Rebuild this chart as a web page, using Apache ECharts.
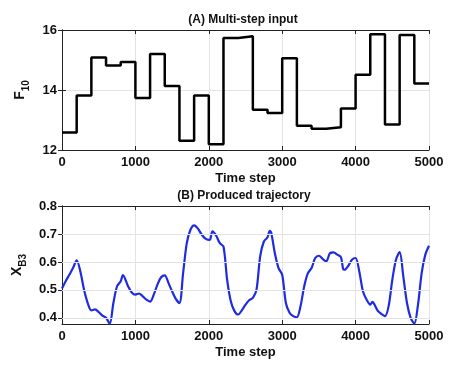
<!DOCTYPE html>
<html>
<head>
<meta charset="utf-8">
<script src="https://cdn.jsdelivr.net/npm/echarts@6/dist/echarts.min.js"></script>
<style>
html,body{margin:0;padding:0;background:#fff;}
#c{width:474px;height:369px;}
</style>
</head>
<body>
<div id="c"></div>
<script>
// Panel A: multi-step input (held for 200 time steps each)
const stepStarts = [0,200,400,600,800,1000,1200,1400,1600,1800,2000,2200,2400,2600,2800,3000,3200,3400,3600,3800,4000,4200,4400,4600,4800,5000];
const stepValues = [12.58,13.82,15.08,14.82,14.93,13.73,15.20,14.13,12.31,13.82,12.19,15.73,15.79,13.34,13.23,15.06,12.81,12.71,12.76,13.38,14.51,15.86,12.85,15.83,14.22,14.22];

// Panel B: produced trajectory
const trajT = [0,50,100,150,200,250,300,350,400,450,500,550,600,650,700,750,800,830,900,950,1000,1050,1100,1150,1200,1250,1300,1350,1400,1450,1500,1550,1600,1650,1700,1750,1800,1850,1900,1950,2000,2020,2050,2100,2150,2200,2250,2300,2350,2400,2450,2500,2550,2600,2650,2700,2750,2800,2830,2850,2900,2950,3000,3050,3100,3150,3200,3250,3300,3350,3400,3450,3500,3550,3600,3650,3700,3750,3800,3830,3850,3900,3950,4000,4050,4100,4150,4200,4230,4250,4300,4350,4400,4450,4500,4550,4600,4650,4700,4750,4800,4850,4900,4950,5000];
const trajX = [0.505,0.531,0.554,0.578,0.606,0.566,0.501,0.453,0.427,0.430,0.421,0.408,0.400,0.379,0.453,0.513,0.531,0.553,0.513,0.491,0.483,0.487,0.477,0.465,0.458,0.483,0.519,0.545,0.552,0.525,0.495,0.468,0.453,0.560,0.667,0.715,0.731,0.720,0.699,0.684,0.679,0.681,0.709,0.694,0.667,0.655,0.536,0.459,0.424,0.412,0.427,0.447,0.463,0.471,0.501,0.620,0.673,0.688,0.711,0.705,0.631,0.578,0.554,0.453,0.418,0.406,0.402,0.442,0.513,0.560,0.578,0.614,0.622,0.611,0.602,0.631,0.634,0.626,0.617,0.575,0.572,0.586,0.608,0.614,0.566,0.495,0.465,0.447,0.457,0.451,0.426,0.414,0.406,0.442,0.536,0.608,0.635,0.548,0.453,0.400,0.379,0.447,0.560,0.626,0.658];

const xTicks = [0,1000,2000,3000,4000,5000];
const yTicksA = [12,14,16];
const yTicksB = [0.4,0.5,0.6,0.7,0.8];
const titleA = '(A) Multi-step input';
const titleB = '(B) Produced trajectory';

const FONT = 'Liberation Sans';
const labelStyle = {fontFamily: FONT, fontWeight: 'bold', fontSize: 13, color: '#111'};
const gridLineColor = '#e3e3e3';

const chart = echarts.init(document.getElementById('c'), null, {renderer: 'canvas'});

function xAxisMain(gi){
  return {
    type: 'value', gridIndex: gi, min: 0, max: 5000, interval: 1000,
    position: 'bottom',
    axisLine: {show: true, onZero: false, lineStyle: {color: '#222', width: 1}},
    axisTick: {show: true, inside: true, length: 4, lineStyle: {color: '#222'}},
    axisLabel: Object.assign({margin: 6, formatter: v => xTicks.includes(v) ? String(v) : ''}, labelStyle),
    splitLine: {show: true, lineStyle: {color: gridLineColor, width: 1}},
    name: 'Time step', nameLocation: 'middle', nameGap: 22,
    nameTextStyle: {fontFamily: FONT, fontWeight: 'bold', fontSize: 13, color: '#111'}
  };
}
function xAxisTop(gi){
  return {
    type: 'value', gridIndex: gi, min: 0, max: 5000, interval: 1000, position: 'top',
    axisLine: {show: true, onZero: false, lineStyle: {color: '#222', width: 1}},
    axisTick: {show: true, inside: true, length: 4, lineStyle: {color: '#222'}},
    axisLabel: {show: false}, splitLine: {show: false}
  };
}
const richName = {
  m: {fontFamily: FONT, fontWeight: 'bold', fontSize: 14, color: '#111', padding: [0,0,4,0]},
  s: {fontFamily: FONT, fontWeight: 'bold', fontSize: 10, color: '#111', padding: [8,0,0,0]}
};

const option = {
  backgroundColor: '#fff',
  animation: false,
  graphic: [
    {type: 'text', x: 243, y: 20, z: 10,
     style: {text: titleA, align: 'center', verticalAlign: 'middle', fontFamily: FONT, fontWeight: 'bold', fontSize: 12, fill: '#111'}},
    {type: 'text', x: 244, y: 196, z: 10,
     style: {text: titleB, align: 'center', verticalAlign: 'middle', fontFamily: FONT, fontWeight: 'bold', fontSize: 12, fill: '#111'}}
  ],
  grid: [
    {left: 62, top: 30, width: 367, height: 120, show: false},
    {left: 62, top: 206, width: 367, height: 118, show: false}
  ],
  xAxis: [xAxisMain(0), xAxisTop(0), xAxisMain(1), xAxisTop(1)],
  yAxis: [
    {type: 'value', gridIndex: 0, min: 12, max: 16, interval: 2, position: 'left',
     axisLine: {show: true, lineStyle: {color: '#222'}},
     axisTick: {show: true, inside: true, length: 4, lineStyle: {color: '#222'}},
     axisLabel: Object.assign({margin: 5, formatter: v => yTicksA.includes(v) ? String(v) : ''}, labelStyle),
     splitLine: {show: true, lineStyle: {color: gridLineColor}},
     name: '{m|F}{s|10}', nameLocation: 'middle', nameGap: 26,
     nameTextStyle: {rich: richName}},
    {type: 'value', gridIndex: 0, min: 12, max: 16, interval: 2, position: 'right',
     axisLine: {show: true, lineStyle: {color: '#222'}},
     axisTick: {show: true, inside: true, length: 4, lineStyle: {color: '#222'}},
     axisLabel: {show: false}, splitLine: {show: false}},
    {type: 'value', gridIndex: 1, min: 0.378, max: 0.8, position: 'left',
     axisLine: {show: true, lineStyle: {color: '#222'}},
     axisTick: {show: true, inside: true, length: 4, customValues: yTicksB, lineStyle: {color: '#222'}},
     axisLabel: Object.assign({margin: 5, customValues: yTicksB, formatter: v => v.toFixed(1)}, labelStyle),
     splitLine: {show: false},
     name: '{m|X}{s|B3}', nameLocation: 'middle', nameGap: 30,
     nameTextStyle: {rich: richName}},
    {type: 'value', gridIndex: 1, min: 0.378, max: 0.8, position: 'right',
     axisLine: {show: true, lineStyle: {color: '#222'}},
     axisTick: {show: true, inside: true, length: 4, customValues: yTicksB, lineStyle: {color: '#222'}},
     axisLabel: {show: false}, splitLine: {show: false}}
  ],
  series: [
    {type: 'line', xAxisIndex: 0, yAxisIndex: 0, step: 'end', showSymbol: false, z: 3,
     lineStyle: {color: '#000', width: 2.5}, itemStyle: {color: '#000'},
     data: stepStarts.map((t, i) => [t, stepValues[i]])},
    {type: 'line', xAxisIndex: 2, yAxisIndex: 2, data: [], z: 1, silent: true,
     markLine: {silent: true, symbol: 'none', label: {show: false},
       lineStyle: {color: gridLineColor, type: 'solid', width: 1},
       data: yTicksB.slice(0, 4).map(v => ({yAxis: v}))}},
    {type: 'line', xAxisIndex: 2, yAxisIndex: 2, smooth: 0.3, showSymbol: false, z: 3,
     lineStyle: {color: '#1f2be0', width: 2.2}, itemStyle: {color: '#1f2be0'},
     data: trajT.map((t, i) => [t, trajX[i]])}
  ]
};
chart.setOption(option);
</script>
</body>
</html>
